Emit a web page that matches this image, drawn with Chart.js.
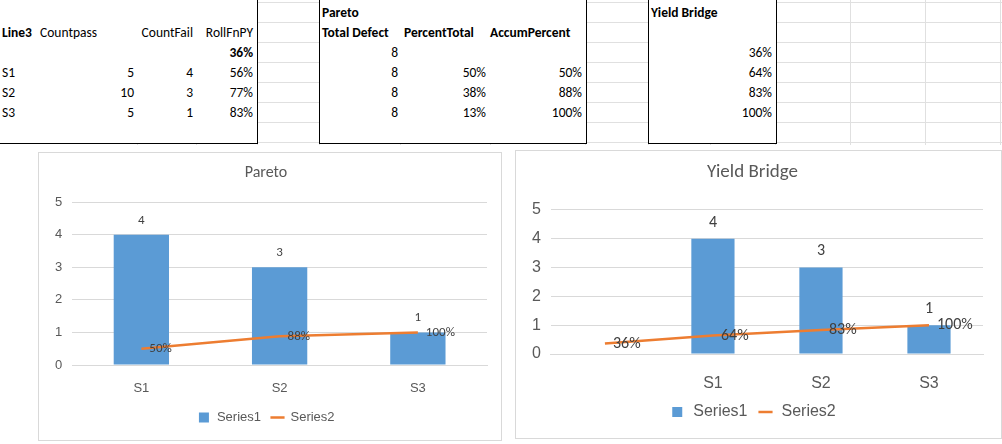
<!DOCTYPE html>
<html><head><meta charset="utf-8">
<script src="https://cdn.jsdelivr.net/npm/chart.js@4"></script>
<style>
body{margin:0;width:1002px;height:444px;background:#fff;position:relative;overflow:hidden;font-family:Carlito,"Liberation Sans",sans-serif;}
.g{position:absolute;background:#e0e0e0;}
.t{position:absolute;font-size:13.5px;color:#000;white-space:nowrap;}
.b{font-weight:bold;}
.box{position:absolute;border:1px solid #000;border-top:none;}
.ch{position:absolute;border:1px solid #d9d9d9;background:#fff;}
</style></head><body>
<div id="sheet"></div>
<div class="ch" style="left:38px;top:152px;width:462px;height:287px"><canvas id="c1"></canvas></div>
<div class="ch" style="left:515px;top:150px;width:485px;height:287px"><canvas id="c2"></canvas></div>
<script>
// ---- data ----
const lines = ["S1","S2","S3"];
const countPass = [5,10,5];
const countFail = [4,3,1];
const rollFnPY = ["56%","77%","83%"];
const rollTotal = "36%";
const totalDefect = [8,8,8];
const percentTotal = ["50%","38%","13%"];
const accumPercent = ["50%","88%","100%"];
const yieldBridge = ["36%","64%","83%","100%"];
const paretoCats = ["S1","S2","S3"];
const paretoBars = [4,3,1];
const paretoLine = [0.5,0.88,1.0];
const paretoLineLabels = ["50%","88%","100%"];
const yieldCats = ["","S1","S2","S3"];
const yieldBars = [null,4,3,1];
const yieldLine = [0.36,0.64,0.83,1.0];
const yieldLineLabels = ["36%","64%","83%","100%"];

// ---- spreadsheet ----
const sh=document.getElementById('sheet');
const cols=[137,196,257,319,400,490,585,648,710,775,850,925,1000];
cols.forEach(x=>{sh.insertAdjacentHTML('beforeend',`<div class="g" style="left:${x}px;top:0;width:1px;height:145px"></div>`)});
for(let y=2;y<=142;y+=20) sh.insertAdjacentHTML('beforeend',`<div class="g" style="left:0;top:${y}px;width:1002px;height:1px"></div>`);
sh.insertAdjacentHTML('beforeend',`<div class="box" style="left:-1px;top:0;width:257px;height:143px;background:#fff"></div>`);
sh.insertAdjacentHTML('beforeend',`<div class="box" style="left:319px;top:0;width:266px;height:143px;background:#fff"></div>`);
sh.insertAdjacentHTML('beforeend',`<div class="box" style="left:648px;top:0;width:127px;height:143px;background:#fff"></div>`);
function T(txt,x,y,align,bold){const s=align==='r'?`right:${1002-x}px`:`left:${x}px`;
 sh.insertAdjacentHTML('beforeend',`<div class="t${bold?' b':''}" style="${s};top:${y-8}px">${txt}</div>`);}
T("Line3",2,32,'l',1);T("Countpass",40,32);T("CountFail",193,32,'r');T("RollFnPY",253,32,'r');
T(rollTotal,253,52,'r',1);
lines.forEach((l,i)=>{const y=72+i*20;T(l,2,y);T(countPass[i],134,y,'r');T(countFail[i],193,y,'r');T(rollFnPY[i],253,y,'r');});
T("Pareto",322,12,'l',1);T("Total Defect",322,32,'l',1);T("PercentTotal",404,32,'l',1);T("AccumPercent",490,32,'l',1);
T(totalDefect[0],398,52,'r');
totalDefect.forEach((d,i)=>{const y=72+i*20;T(d,398,y,'r');T(percentTotal[i],486,y,'r');T(accumPercent[i],582,y,'r');});
T("Yield Bridge",651,12,'l',1);
yieldBridge.forEach((v,i)=>T(v,772,52+i*20,'r'));

// ---- charts ----
const labelPlugin={id:'lbl',afterDatasetsDraw(c,a,o){
 const ctx=c.ctx,y=c.scales.y,x=c.scales.x,fs=o.fs;
 ctx.save();ctx.fillStyle='#404040';ctx.font=fs+'px Carlito, "Liberation Sans", sans-serif';
 ctx.textAlign='center';ctx.textBaseline='bottom';
 c.data.datasets[0].data.forEach((v,i)=>{if(v==null)return;ctx.fillText(v,x.getPixelForValue(i),y.getPixelForValue(v)-8);});
 ctx.textAlign='left';ctx.textBaseline='middle';
 c.data.datasets[1].data.forEach((v,i)=>{ctx.fillText(o.labels[i],x.getPixelForValue(i)+8,y.getPixelForValue(v));});
 ctx.restore();}};
function mk(id,cats,bars,line,lbls,title,fs,tfs,pad,tickPad,xh,tpb){
 new Chart(document.getElementById(id),{type:'bar',
 data:{labels:cats,datasets:[
  {label:'Series1',data:bars,backgroundColor:'#5b9bd5',categoryPercentage:1,barPercentage:0.4,pointStyle:'rect',order:2},
  {label:'Series2',type:'line',data:line,borderColor:'#ed7d31',borderWidth:2.5,pointRadius:0,pointStyle:'line',order:1}]},
 options:{responsive:true,maintainAspectRatio:false,animation:false,
  layout:{padding:pad},
  plugins:{lbl:{fs:fs,labels:lbls},tooltip:{enabled:false},
   title:{display:true,text:title,color:'#595959',font:{size:tfs,weight:'normal',family:'Carlito, "Liberation Sans", sans-serif'},padding:{top:4,bottom:tpb}},
   legend:{position:'bottom',labels:{sort:(a,b)=>a.datasetIndex-b.datasetIndex,usePointStyle:true,boxWidth:30,boxHeight:10,color:'#595959',font:{size:fs}}}},
  scales:{y:{min:0,max:5,ticks:{stepSize:1,color:'#595959',font:{size:fs},padding:10},grid:{color:'#d9d9d9',drawTicks:false},border:{display:false}},
   x:{afterFit:s=>{s.height=xh;},ticks:{color:'#595959',font:{size:fs},padding:tickPad},grid:{display:false},border:{color:'#d9d9d9'}}}},
 plugins:[labelPlugin]});
}
mk('c1',paretoCats,paretoBars,paretoLine,paretoLineLabels,'Pareto',13,16,{left:6,right:14,top:6,bottom:6},8,36,20);
mk('c2',yieldCats,yieldBars,yieldLine,yieldLineLabels,'Yield Bridge',16,19,{left:6,right:18,top:6,bottom:8},12,40,26);
</script></body></html>
